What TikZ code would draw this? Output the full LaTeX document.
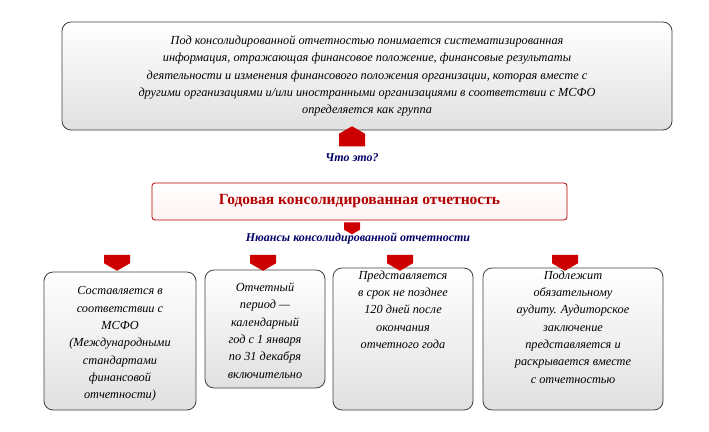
\documentclass[tikz,border=0pt]{standalone}
\usepackage{fontspec}
\setmainfont{Liberation Serif}
\usetikzlibrary{positioning,shapes.arrows}

\begin{document}
\begin{tikzpicture}[x=1pt,y=-1pt]
  \tikzstyle{info} = [draw=black!75,thick,rounded corners=9pt,top color=white,bottom color=black!12,inner sep=2pt]
  \tikzstyle{txt} = [font=\fontsize{12.3}{17.3}\selectfont\itshape,align=center,inner sep=0pt]
  \tikzstyle{title} = [draw=red!70!black,thick,rounded corners=3pt,top color=white,bottom color=red!5,
    font=\fontsize{15.5}{18}\selectfont\bfseries,text=red!70!black,minimum width=415pt,minimum height=37pt]
  \tikzstyle{quest} = [font=\fontsize{12}{14}\selectfont\bfseries\itshape,text=blue!40!black]
  \tikzstyle{blk} = [single arrow,fill=red!80!black,draw=none,minimum height=16pt,minimum width=26pt,
    single arrow head extend=0pt,inner sep=0pt,single arrow tip angle=120]
  \useasboundingbox (0,0) rectangle (709,431);
  % upper block
  \node (defn) [info,minimum width=610pt,minimum height=108pt] at (367,76) {};
  \node (defnt) [txt] at (defn) {Под консолидированной отчетностью понимается систематизированная\\
     информация, отражающая финансовое положение, финансовые результаты\\
     деятельности и изменения финансового положения организации, которая вместе с\\
     другими организациями и/или иностранными организациями в соответствии с МСФО\\
     определяется как группа};
  \node (head) [title] at (359.5,201.5) {Годовая консолидированная отчетность};
  \node (what) [quest] at (352,158) {Что это?};
  \node (nuan) [quest] at (358,238) {Нюансы консолидированной отчетности};
  \node (upar) [blk,shape border rotate=90,minimum height=20pt] at (352,140) {};
  \node (dnar) [blk,shape border rotate=270,minimum height=12pt,minimum width=16pt] at (352,226) {};
  % lower blocks
  \node (msfo) [info,minimum width=152pt,minimum height=138pt] at (120,341) {};
  \node (msfot) [txt,below=15pt of msfo.north]
    {Составляется в\\ соответствии с\\ МСФО\\ (Международными\\ стандартами\\ финансовой\\ отчетности)};
  \node (peri) [info,minimum width=120pt,minimum height=118pt] at (265,329) {};
  \node (perit) [txt,below=13pt of peri.north]
    {Отчетный\\ период —\\ календарный\\ год с 1 января\\ по 31 декабря\\ включительно};
  \node (term) [info,minimum width=140pt,minimum height=142pt] at (403,339) {};
  \node (termt) [txt,below=3pt of term.north]
    {Представляется\\ в срок не позднее\\ 120 дней после\\ окончания\\ отчетного года};
  \node (audi) [info,minimum width=180pt,minimum height=142pt] at (573,339) {};
  \node (audit) [txt,below=3pt of audi.north]
    {Подлежит\\ обязательному\\ аудиту. Аудиторское\\ заключение\\ представляется и\\ раскрывается вместе\\ с отчетностью};
  \foreach \b/\x in {msfo/117,peri/263,term/400,audi/565}
    \node (ar\b) [blk,shape border rotate=270] at (\x,259) {};
\end{tikzpicture}
\end{document}
